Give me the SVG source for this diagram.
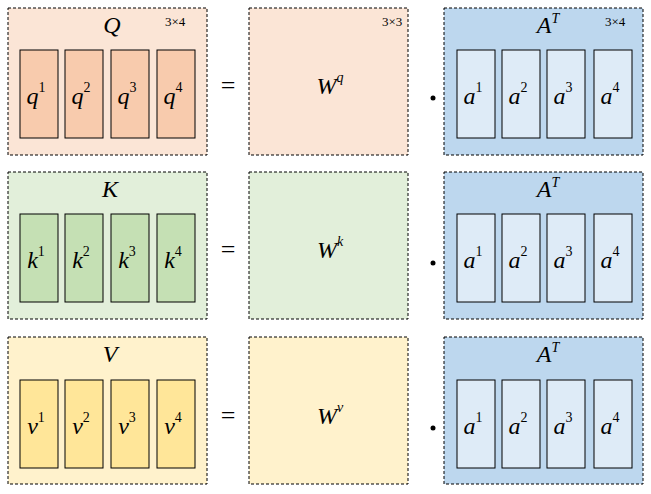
<svg xmlns="http://www.w3.org/2000/svg" width="651" height="494" viewBox="0 0 651 494">
<style>
.box{stroke:#000;stroke-width:1;stroke-dasharray:3,2}
.in{stroke:#000;stroke-width:1}
.t{font-family:"Liberation Serif",serif;font-style:italic;font-size:24px;text-anchor:middle}
.s{font-family:"Liberation Serif",serif;font-size:14px}
.n{font-family:"Liberation Serif",serif;font-size:13px}
.op{font-family:"Liberation Serif",serif;font-size:26px;text-anchor:middle}
</style>
<rect width="651" height="494" fill="#fff"/>
<g id="Q">
<rect class="box" x="8" y="8" width="199" height="147" fill="#fbe5d6"/>
<text class="t" x="112" y="33">Q</text><text class="n" x="165" y="26">3×4</text>
<rect class="in" x="20" y="50" width="38" height="88" fill="#f8cbad"/><rect class="in" x="65" y="50" width="38" height="88" fill="#f8cbad"/><rect class="in" x="111" y="50" width="38" height="88" fill="#f8cbad"/><rect class="in" x="157" y="50" width="38" height="88" fill="#f8cbad"/>
<text class="t" x="36" y="104">q<tspan class="s" dy="-12" font-style="normal">1</tspan></text>
<text class="t" x="81" y="104">q<tspan class="s" dy="-12" font-style="normal">2</tspan></text>
<text class="t" x="127" y="104">q<tspan class="s" dy="-12" font-style="normal">3</tspan></text>
<text class="t" x="173" y="104">q<tspan class="s" dy="-12" font-style="normal">4</tspan></text>
</g>
<g id="K">
<rect class="box" x="8" y="172" width="199" height="147" fill="#e2efda"/>
<text class="t" x="110" y="197">K</text>
<rect class="in" x="20" y="214" width="38" height="88" fill="#c5e0b4"/><rect class="in" x="65" y="214" width="38" height="88" fill="#c5e0b4"/><rect class="in" x="111" y="214" width="38" height="88" fill="#c5e0b4"/><rect class="in" x="157" y="214" width="38" height="88" fill="#c5e0b4"/>
<text class="t" x="36" y="268">k<tspan class="s" dy="-12" font-style="normal">1</tspan></text>
<text class="t" x="81" y="268">k<tspan class="s" dy="-12" font-style="normal">2</tspan></text>
<text class="t" x="127" y="268">k<tspan class="s" dy="-12" font-style="normal">3</tspan></text>
<text class="t" x="173" y="268">k<tspan class="s" dy="-12" font-style="normal">4</tspan></text>
</g>
<g id="V">
<rect class="box" x="8" y="337" width="199" height="147" fill="#fff2cc"/>
<text class="t" x="110" y="362">V</text>
<rect class="in" x="20" y="380" width="38" height="88" fill="#ffe699"/><rect class="in" x="65" y="380" width="38" height="88" fill="#ffe699"/><rect class="in" x="111" y="380" width="38" height="88" fill="#ffe699"/><rect class="in" x="157" y="380" width="38" height="88" fill="#ffe699"/>
<text class="t" x="36" y="434">v<tspan class="s" dy="-12" font-style="normal">1</tspan></text>
<text class="t" x="81" y="434">v<tspan class="s" dy="-12" font-style="normal">2</tspan></text>
<text class="t" x="127" y="434">v<tspan class="s" dy="-12" font-style="normal">3</tspan></text>
<text class="t" x="173" y="434">v<tspan class="s" dy="-12" font-style="normal">4</tspan></text>
</g>
<g id="ops">
<text class="op" x="228" y="94">=</text><text class="op" x="228" y="258">=</text><text class="op" x="228" y="424">=</text>
<circle cx="433" cy="98" r="2.5"/><circle cx="433" cy="263" r="2.5"/><circle cx="433" cy="428" r="2.5"/>
</g>
<g id="Wq">
<rect class="box" x="249" y="8" width="159" height="147" fill="#fbe5d6"/>
<text class="n" x="382" y="26">3×3</text>
<text class="t" x="330" y="94">W<tspan class="s" dy="-12">q</tspan></text>
</g>
<g id="Wk">
<rect class="box" x="249" y="172" width="159" height="147" fill="#e2efda"/>
<text class="t" x="330" y="258">W<tspan class="s" dy="-12">k</tspan></text>
</g>
<g id="Wv">
<rect class="box" x="249" y="337" width="159" height="147" fill="#fff2cc"/>
<text class="t" x="330" y="424">W<tspan class="s" dy="-12">v</tspan></text>
</g>
<g id="A1">
<rect class="box" x="444" y="8" width="199" height="147" fill="#bdd7ee"/>
<text class="t" x="548" y="33">A<tspan class="s" dy="-10">T</tspan></text><text class="n" x="605" y="26">3×4</text>
<rect class="in" x="457" y="50" width="38" height="88" fill="#deebf7"/><rect class="in" x="502" y="50" width="38" height="88" fill="#deebf7"/><rect class="in" x="547" y="50" width="38" height="88" fill="#deebf7"/><rect class="in" x="594" y="50" width="38" height="88" fill="#deebf7"/>
<text class="t" x="473" y="104">a<tspan class="s" dy="-12" font-style="normal">1</tspan></text>
<text class="t" x="518" y="104">a<tspan class="s" dy="-12" font-style="normal">2</tspan></text>
<text class="t" x="563" y="104">a<tspan class="s" dy="-12" font-style="normal">3</tspan></text>
<text class="t" x="610" y="104">a<tspan class="s" dy="-12" font-style="normal">4</tspan></text>
</g>
<g id="A2">
<rect class="box" x="444" y="172" width="199" height="147" fill="#bdd7ee"/>
<text class="t" x="548" y="197">A<tspan class="s" dy="-10">T</tspan></text>
<rect class="in" x="457" y="214" width="38" height="88" fill="#deebf7"/><rect class="in" x="502" y="214" width="38" height="88" fill="#deebf7"/><rect class="in" x="547" y="214" width="38" height="88" fill="#deebf7"/><rect class="in" x="594" y="214" width="38" height="88" fill="#deebf7"/>
<text class="t" x="473" y="268">a<tspan class="s" dy="-12" font-style="normal">1</tspan></text>
<text class="t" x="518" y="268">a<tspan class="s" dy="-12" font-style="normal">2</tspan></text>
<text class="t" x="563" y="268">a<tspan class="s" dy="-12" font-style="normal">3</tspan></text>
<text class="t" x="610" y="268">a<tspan class="s" dy="-12" font-style="normal">4</tspan></text>
</g>
<g id="A3">
<rect class="box" x="444" y="337" width="199" height="147" fill="#bdd7ee"/>
<text class="t" x="548" y="362">A<tspan class="s" dy="-10">T</tspan></text>
<rect class="in" x="457" y="380" width="38" height="88" fill="#deebf7"/><rect class="in" x="502" y="380" width="38" height="88" fill="#deebf7"/><rect class="in" x="547" y="380" width="38" height="88" fill="#deebf7"/><rect class="in" x="594" y="380" width="38" height="88" fill="#deebf7"/>
<text class="t" x="473" y="434">a<tspan class="s" dy="-12" font-style="normal">1</tspan></text>
<text class="t" x="518" y="434">a<tspan class="s" dy="-12" font-style="normal">2</tspan></text>
<text class="t" x="563" y="434">a<tspan class="s" dy="-12" font-style="normal">3</tspan></text>
<text class="t" x="610" y="434">a<tspan class="s" dy="-12" font-style="normal">4</tspan></text>
</g>
<g id="connectors"/>
</svg>
